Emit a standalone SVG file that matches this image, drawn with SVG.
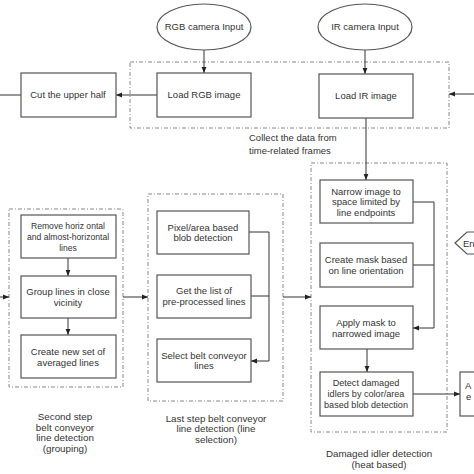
<svg xmlns="http://www.w3.org/2000/svg" width="474" height="474" viewBox="0 0 474 474">
<defs>
<marker id="ah" viewBox="0 0 10 10" refX="10" refY="5" markerWidth="6" markerHeight="6" orient="auto" markerUnits="userSpaceOnUse">
<path d="M0,1 L10,5 L0,9 z" fill="#222"/>
</marker>
<style>
.box{fill:#fff;stroke:#555;stroke-width:1.2}
.grp{fill:none;stroke:#888;stroke-width:1;stroke-dasharray:4 2 1 2}
.t{font-family:"Liberation Sans",Arial,sans-serif;font-size:9.5px;fill:#333;text-anchor:middle}
.s{font-size:8.6px}
.m{font-size:9.1px}
.cap{font-size:9.8px}
.c{font-family:"Liberation Sans",Arial,sans-serif;font-size:9.5px;fill:#333}
.ln{fill:none;stroke:#333;stroke-width:1}
.ar{fill:none;stroke:#333;stroke-width:1;marker-end:url(#ah)}
</style>
</defs>
<rect width="474" height="474" fill="#fff"/>

<g id="groups">
<rect id="collect-group" class="grp" x="130" y="62" width="319" height="66"/>
<rect id="second-group" class="grp" x="9" y="209" width="114" height="178"/>
<rect id="last-group" class="grp" x="148" y="194" width="135" height="207"/>
<rect id="damaged-group" class="grp" x="311" y="163" width="136" height="269"/>
</g>

<g id="connectors">
<line class="ar" x1="204" y1="50" x2="204" y2="73"/>
<line class="ar" x1="365" y1="50" x2="365" y2="74"/>
<line class="ar" x1="157" y1="95" x2="116" y2="95"/>
<line class="ln" x1="21" y1="95" x2="0" y2="95"/>
<line class="ar" x1="474" y1="94" x2="449" y2="94"/>
<line class="ar" x1="366" y1="118" x2="366" y2="180"/>
<polyline class="ar" points="413,202 434,202 434,328 413,328"/>
<line class="ln" x1="413" y1="265" x2="434" y2="265"/>
<line class="ar" x1="367" y1="349" x2="367" y2="372"/>
<line class="ar" x1="413" y1="394" x2="460" y2="394"/>
<line class="ar" x1="0" y1="297" x2="9" y2="297"/>
<line class="ar" x1="68" y1="258" x2="68" y2="276"/>
<line class="ar" x1="68" y1="318" x2="68" y2="335"/>
<line class="ar" x1="123" y1="297" x2="148" y2="297"/>
<polyline class="ar" points="249,232 269,232 269,361 251,361"/>
<line class="ln" x1="251" y1="296" x2="269" y2="296"/>
<line class="ar" x1="283" y1="297" x2="311" y2="297"/>
</g>

<g id="rgb-input">
<ellipse class="box" cx="204" cy="27" rx="47" ry="23"/>
<text class="t" x="204" y="30">RGB camera Input</text>
</g>
<g id="ir-input">
<ellipse class="box" cx="365" cy="27" rx="47" ry="23"/>
<text class="t" x="365" y="30">IR camera Input</text>
</g>
<g id="load-rgb">
<rect class="box" x="157" y="73" width="94" height="44"/>
<text class="t" x="204" y="98">Load RGB image</text>
</g>
<g id="load-ir">
<rect class="box" x="319" y="74" width="94" height="44"/>
<text class="t" x="366" y="99">Load IR image</text>
</g>
<g id="cut">
<rect class="box" x="21" y="73" width="95" height="44"/>
<text class="t" x="68" y="98">Cut the upper half</text>
</g>
<g id="collect-label">
<text class="c" x="249" y="141">Collect the data from</text>
<text class="c" x="249" y="154">time-related frames</text>
</g>

<g id="remove">
<rect class="box" x="21" y="215" width="95" height="43"/>
<text class="t s" x="68" y="229">Remove horiz ontal</text>
<text class="t s" x="68" y="240">and almost-horizontal</text>
<text class="t s" x="68" y="251">lines</text>
</g>
<g id="group-lines">
<rect class="box" x="21" y="276" width="95" height="42"/>
<text class="t" x="68" y="295">Group lines in close</text>
<text class="t" x="68" y="306">vicinity</text>
</g>
<g id="create-new">
<rect class="box" x="21" y="335" width="95" height="43"/>
<text class="t" x="68" y="355">Create new set of</text>
<text class="t" x="68" y="366">averaged lines</text>
</g>
<g id="second-label">
<text class="t cap" x="65" y="420">Second step</text>
<text class="t cap" x="65" y="431">belt conveyor</text>
<text class="t cap" x="65" y="441">line detection</text>
<text class="t cap" x="65" y="452">(grouping)</text>
</g>

<g id="pixel">
<rect class="box" x="157" y="211" width="92" height="43"/>
<text class="t" x="203" y="231">Pixel/area based</text>
<text class="t" x="203" y="241">blob detection</text>
</g>
<g id="get-list">
<rect class="box" x="157" y="275" width="94" height="43"/>
<text class="t" x="204" y="294">Get the list of</text>
<text class="t" x="204" y="305">pre-processed lines</text>
</g>
<g id="select">
<rect class="box" x="157" y="339" width="94" height="43"/>
<text class="t" x="204" y="359">Select belt conveyor</text>
<text class="t" x="204" y="369">lines</text>
</g>
<g id="last-label">
<text class="t cap" x="216" y="422">Last step belt conveyor</text>
<text class="t cap" x="216" y="432">line detection (line</text>
<text class="t cap" x="216" y="443">selection)</text>
</g>

<g id="narrow">
<rect class="box" x="320" y="180" width="93" height="43"/>
<text class="t" x="366" y="195">Narrow image to</text>
<text class="t" x="366" y="205">space limited by</text>
<text class="t" x="366" y="216">line endpoints</text>
</g>
<g id="create-mask">
<rect class="box" x="320" y="243" width="93" height="44"/>
<text class="t" x="366" y="263">Create mask based</text>
<text class="t" x="366" y="274">on line orientation</text>
</g>
<g id="apply-mask">
<rect class="box" x="320" y="306" width="93" height="43"/>
<text class="t" x="366" y="326">Apply mask to</text>
<text class="t" x="366" y="337">narrowed image</text>
</g>
<g id="detect">
<rect class="box" x="320" y="372" width="93" height="44"/>
<text class="t m" x="366" y="386">Detect damaged</text>
<text class="t m" x="366" y="397">idlers by color/area</text>
<text class="t m" x="366" y="408">based blob detection</text>
</g>
<g id="damaged-label">
<text class="t cap" x="379" y="457">Damaged idler detection</text>
<text class="t cap" x="379" y="468">(heat based)</text>
</g>

<g id="end">
<polygon class="box" points="455,243 467,232 490,232 490,254 467,254"/>
<text class="c" x="463" y="247">En</text>
</g>
<g id="alarm">
<rect class="box" x="460" y="372" width="30" height="44"/>
<text class="c" x="465" y="389">A</text>
<text class="c" x="466" y="400">e</text>
</g>
</svg>
